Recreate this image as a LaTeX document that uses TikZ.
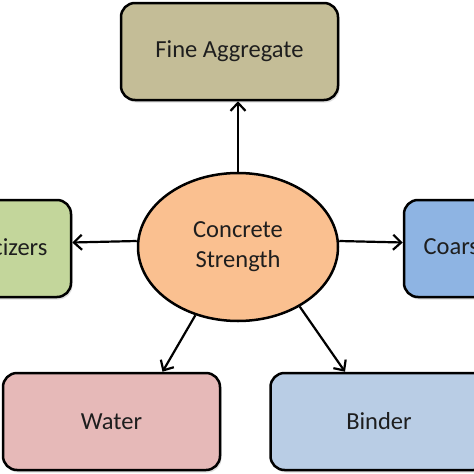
\documentclass[tikz,border=0pt]{standalone}
\usepackage{fontspec}
\setmainfont{Carlito}
\usetikzlibrary{arrows.meta,shapes.geometric,shadows}
\definecolor{finec}{HTML}{C4BD97}
\definecolor{supc}{HTML}{C3D69B}
\definecolor{coarc}{HTML}{8EB4E3}
\definecolor{watc}{HTML}{E6B9B8}
\definecolor{binc}{HTML}{B9CDE5}
\definecolor{ellc}{HTML}{FAC090}
\definecolor{txtc}{HTML}{1E1E1E}
\begin{document}
\begin{tikzpicture}[x=1pt,y=-1pt,
  box/.style={draw=black, line width=2.5pt, rounded corners=14pt,
    minimum width=217pt, minimum height=97pt, inner sep=0pt,
    font=\fontsize{24.5}{28}\selectfont, text=txtc,
    drop shadow={shadow xshift=1.5pt, shadow yshift=-2.5pt, opacity=0.25}},
  ell/.style={draw=black, line width=2.5pt, ellipse, fill=ellc,
    minimum width=200pt, minimum height=148pt, inner sep=0pt,
    font=\fontsize{24.5}{30}\selectfont, text=txtc, align=center},
  arr/.style={-{Straight Barb[length=8pt,width=15pt,line width=2.2pt]}, line width=2.2pt, draw=black}]
\useasboundingbox (0,0) rectangle (474,474);
\clip (0,0) rectangle (474,474);
\node[box, fill=finec] (fine) at (229.5,51.5) {Fine Aggregate};
\node[box, fill=supc, minimum width=213pt] (sup) at (-35.5,248.5) {Superplasticizers};
\node[box, fill=coarc, minimum width=213pt] (coar) at (510.5,248.5) {Coarse Aggregate};
\node[box, fill=watc] (wat) at (111.5,421.5) {Water};
\node[box, fill=binc] (bin) at (379,421.5) {Binder};
\node[ell] (conc) at (238,247) {Concrete\\Strength};
\draw[arr] (conc.north) -- (conc.north |- fine.south);
\draw[arr] ([yshift=6pt]conc.west) -- ([yshift=6pt]sup.east);
\draw[arr] ([yshift=6pt]conc.east) -- ([yshift=6pt]coar.west);
\draw[arr] (conc.238) -- ([xshift=51pt]wat.north);
\draw[arr] (conc.316) -- ([xshift=-34pt]bin.north);
\end{tikzpicture}
\end{document}
